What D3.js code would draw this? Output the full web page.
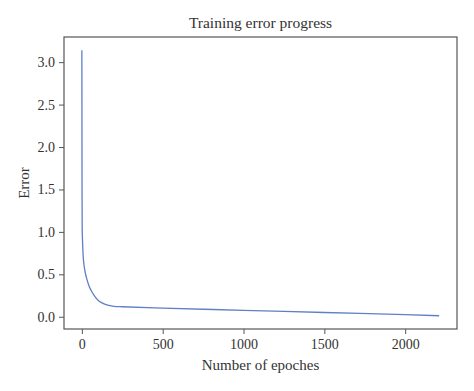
<!DOCTYPE html>
<html>
<head>
<meta charset="utf-8">
<script src="https://cdn.jsdelivr.net/npm/d3@7"></script>
<style>
  body { margin: 0; background: #fff; }
  svg { display: block; }
</style>
</head>
<body>
<div id="chart"></div>
<script>
// Training error per epoch
const epochs = [0, 1, 2, 4, 8, 12, 20, 30, 45, 60, 80, 100, 125, 150, 175, 200, 250, 500, 1000, 1500, 2000, 2210];
const errors = [3.14, 1.6, 1.05, 0.9, 0.72, 0.63, 0.53, 0.45, 0.36, 0.3, 0.24, 0.195, 0.163, 0.142, 0.13, 0.122, 0.118, 0.102, 0.076, 0.05, 0.024, 0.012];

const xTicks = [0, 500, 1000, 1500, 2000];
const yTicks = [0.0, 0.5, 1.0, 1.5, 2.0, 2.5, 3.0];

const width = 474, height = 391;
const margin = { top: 37, right: 17, bottom: 62, left: 64 };

const data = epochs.map((e, i) => ({ epoch: e, error: errors[i] }));

// matplotlib-like 5% padding around the data
const xExt = d3.extent(epochs), yExt = d3.extent(errors);
const xPad = (xExt[1] - xExt[0]) * 0.05, yPad = (yExt[1] - yExt[0]) * 0.05;

const x = d3.scaleLinear()
    .domain([xExt[0] - xPad, xExt[1] + xPad])
    .range([margin.left, width - margin.right]);
const y = d3.scaleLinear()
    .domain([yExt[0] - yPad, yExt[1] + yPad])
    .range([height - margin.bottom, margin.top]);

const svg = d3.select("#chart").append("svg")
    .attr("width", width)
    .attr("height", height)
    .attr("viewBox", [0, 0, width, height])
    .style("font-family", "'Liberation Serif', 'DejaVu Serif', serif");

const axisColor = "#555";
const textColor = "#333";

// frame
svg.append("rect")
    .attr("x", margin.left)
    .attr("y", margin.top)
    .attr("width", width - margin.left - margin.right)
    .attr("height", height - margin.top - margin.bottom)
    .attr("fill", "none")
    .attr("stroke", axisColor)
    .attr("stroke-width", 1.2);

svg.append("g")
    .attr("transform", `translate(0,${height - margin.bottom})`)
    .call(d3.axisBottom(x).tickValues(xTicks).tickFormat(d3.format("d")).tickSize(5).tickPadding(5))
    .call(g => g.select(".domain").remove())
    .call(g => g.selectAll(".tick line").attr("stroke", axisColor))
    .call(g => g.selectAll(".tick text")
        .attr("fill", textColor)
        .attr("font-size", 14)
        .attr("font-family", "'Liberation Serif', serif"));

svg.append("g")
    .attr("transform", `translate(${margin.left},0)`)
    .call(d3.axisLeft(y).tickValues(yTicks).tickFormat(d3.format(".1f")).tickSize(5).tickPadding(4))
    .call(g => g.select(".domain").remove())
    .call(g => g.selectAll(".tick line").attr("stroke", axisColor))
    .call(g => g.selectAll(".tick text")
        .attr("fill", textColor)
        .attr("font-size", 14)
        .attr("font-family", "'Liberation Serif', serif"));

svg.append("path")
    .datum(data)
    .attr("fill", "none")
    .attr("stroke", "#5f7fc7")
    .attr("stroke-width", 1.3)
    .attr("d", d3.line()
        .curve(d3.curveMonotoneX)
        .x(d => x(d.epoch))
        .y(d => y(d.error)));

// title and axis labels
svg.append("text")
    .attr("x", (margin.left + width - margin.right) / 2)
    .attr("y", 28)
    .attr("text-anchor", "middle")
    .attr("fill", textColor)
    .attr("font-size", 15.5)
    .text("Training error progress");

svg.append("text")
    .attr("x", (margin.left + width - margin.right) / 2)
    .attr("y", 370)
    .attr("text-anchor", "middle")
    .attr("fill", textColor)
    .attr("font-size", 15)
    .text("Number of epoches");

svg.append("text")
    .attr("transform", `translate(29,${(margin.top + height - margin.bottom) / 2}) rotate(-90)`)
    .attr("text-anchor", "middle")
    .attr("fill", textColor)
    .attr("font-size", 15)
    .text("Error");
</script>
</body>
</html>
